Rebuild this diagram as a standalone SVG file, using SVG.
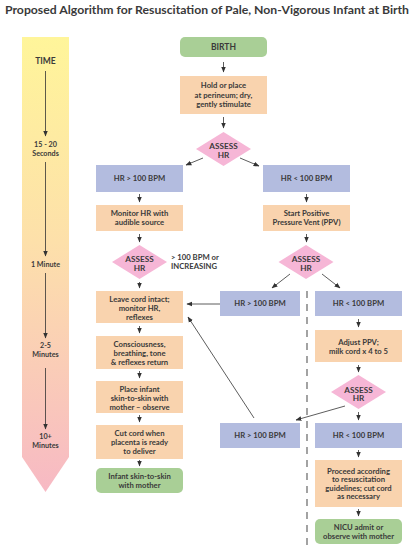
<svg xmlns="http://www.w3.org/2000/svg" width="414" height="550" viewBox="0 0 414 550">
<defs>
<linearGradient id="tg" x1="0" y1="0" x2="0" y2="1">
<stop offset="0" stop-color="#fff59a"/>
<stop offset="0.45" stop-color="#fde0aa"/>
<stop offset="1" stop-color="#f7b9c4"/>
</linearGradient>
<marker id="ah" viewBox="0 0 10 10" refX="9" refY="5" markerWidth="6" markerHeight="6" markerUnits="userSpaceOnUse" orient="auto">
<path d="M0,1 L10,5 L0,9 Z" fill="#333"/>
</marker>
<style>
text{font-family:Lato,"Liberation Sans",Arial,sans-serif;font-weight:700;fill:#3a3a3a;text-anchor:middle}
.t{font-size:7.7px}
.d{font-size:8.2px}
.tm{font-size:7.2px}
.peach{fill:#f9d3ae}
.blue{fill:#b3bcdf}
.green{fill:#a9cf96}
.pink{fill:#f6b6d6}
.c line,.c path{stroke:#333;stroke-width:0.8;fill:none;marker-end:url(#ah)}
.dash{stroke:#666;stroke-width:1.2;stroke-dasharray:7,6;fill:none}
</style>
</defs>
<rect width="414" height="550" fill="#ffffff"/>
<text x="207" y="14" style="font-size:12px;fill:#3a3a3a" textLength="404" lengthAdjust="spacingAndGlyphs">Proposed Algorithm for Resuscitation of Pale, Non-Vigorous Infant at Birth</text>

<g id="timeline">
<polygon points="22,37 69,37 69,457 45.5,492 22,457" fill="url(#tg)"/>
<text x="45.5" y="63.5" style="font-size:8.5px">TIME</text>
<text class="tm" x="45.5" y="147">15 - 20</text>
<text class="tm" x="45.5" y="155.5">Seconds</text>
<text class="tm" x="45.5" y="267">1 Minute</text>
<text class="tm" x="45.5" y="348">2-5</text>
<text class="tm" x="45.5" y="356.5">Minutes</text>
<text class="tm" x="45.5" y="439">10+</text>
<text class="tm" x="45.5" y="447.5">Minutes</text>
<g class="c">
<line x1="45.5" y1="71" x2="45.5" y2="136"/>
<line x1="45.5" y1="162" x2="45.5" y2="256"/>
<line x1="45.5" y1="273" x2="45.5" y2="338"/>
<line x1="45.5" y1="368" x2="45.5" y2="429"/>
</g>
</g>

<line class="dash" x1="307" y1="291" x2="307" y2="545"/>

<g id="birth"><rect class="green" x="180" y="37" width="87" height="20" rx="5"/><text x="223.5" y="50" style="font-size:8.5px">BIRTH</text></g>
<g id="hold"><rect class="peach" x="180" y="76" width="87" height="38"/><text class="t" x="223.5" y="88">Hold or place</text><text class="t" x="223.5" y="97.5">at perineum; dry,</text><text class="t" x="223.5" y="107">gently stimulate</text></g>
<g id="assess1"><polygon class="pink" points="223.5,132 251,149 223.5,166 196,149"/><text class="d" x="223.5" y="149">ASSESS</text><text class="d" x="223.5" y="157.5">HR</text></g>

<g id="hrgt1"><rect class="blue" x="96" y="165" width="87" height="27"/><text class="t" x="139.5" y="181">HR &gt; 100 BPM</text></g>
<g id="hrlt1"><rect class="blue" x="263" y="165" width="87" height="27"/><text class="t" x="306.5" y="181">HR &lt; 100 BPM</text></g>
<g id="monitor"><rect class="peach" x="96" y="205" width="87" height="26"/><text class="t" x="139.5" y="215.5">Monitor HR with</text><text class="t" x="139.5" y="224.5">audible source</text></g>
<g id="ppv"><rect class="peach" x="263" y="205" width="87" height="26"/><text class="t" x="306.5" y="215.5">Start Positive</text><text class="t" x="306.5" y="224.5">Pressure Vent (PPV)</text></g>
<g id="assess2"><polygon class="pink" points="139.5,245 167,262 139.5,279 112,262" /><text class="d" x="139.5" y="262">ASSESS</text><text class="d" x="139.5" y="271">HR</text></g>
<g id="incr"><text class="t" x="171" y="260" style="text-anchor:start">&gt; 100 BPM or</text><text class="t" x="171" y="269" style="text-anchor:start">INCREASING</text></g>
<g id="assess3"><polygon class="pink" points="306,245 333.5,262 306,279 278.5,262"/><text class="d" x="306" y="262">ASSESS</text><text class="d" x="306" y="271">HR</text></g>

<g id="leave"><rect class="peach" x="96" y="291" width="87" height="32"/><text class="t" x="139.5" y="301.5">Leave cord intact;</text><text class="t" x="139.5" y="310.5">monitor HR,</text><text class="t" x="139.5" y="319.5">reflexes</text></g>
<g id="hrgt2"><rect class="blue" x="220" y="291" width="80" height="25"/><text class="t" x="260" y="306">HR &gt; 100 BPM</text></g>
<g id="hrlt2"><rect class="blue" x="315" y="291" width="87" height="25"/><text class="t" x="358.5" y="306">HR &lt; 100 BPM</text></g>
<g id="consc"><rect class="peach" x="96" y="336" width="87" height="33"/><text class="t" x="139.5" y="346.5">Consciousness,</text><text class="t" x="139.5" y="355.5">breathing, tone</text><text class="t" x="139.5" y="364.5">&amp; reflexes return</text></g>
<g id="adjust"><rect class="peach" x="315" y="330" width="87" height="32"/><text class="t" x="358.5" y="344.5">Adjust PPV;</text><text class="t" x="358.5" y="353.5">milk cord x 4 to 5</text></g>
<g id="place"><rect class="peach" x="96" y="381" width="87" height="32"/><text class="t" x="139.5" y="391.5">Place infant</text><text class="t" x="139.5" y="400.5">skin-to-skin with</text><text class="t" x="139.5" y="409.5">mother – observe</text></g>
<g id="assess4"><polygon class="pink" points="358.5,375 386,392 358.5,409 331,392"/><text class="d" x="358.5" y="392.5">ASSESS</text><text class="d" x="358.5" y="401">HR</text></g>
<g id="cut"><rect class="peach" x="96" y="425" width="87" height="34"/><text class="t" x="139.5" y="435.5">Cut cord when</text><text class="t" x="139.5" y="444.5">placenta is ready</text><text class="t" x="139.5" y="453.5">to deliver</text></g>
<g id="hrgt3"><rect class="blue" x="220" y="423" width="80" height="25"/><text class="t" x="260" y="438">HR &gt; 100 BPM</text></g>
<g id="hrlt3"><rect class="blue" x="315" y="423" width="87" height="25"/><text class="t" x="358.5" y="438">HR &lt; 100 BPM</text></g>
<g id="infant"><rect class="green" x="96" y="468" width="87" height="25" rx="5"/><text class="t" x="139.5" y="479">Infant skin-to-skin</text><text class="t" x="139.5" y="488">with mother</text></g>
<g id="proceed"><rect class="peach" x="315" y="460" width="87" height="47"/><text class="t" x="358.5" y="473.5">Proceed according</text><text class="t" x="358.5" y="482">to resuscitation</text><text class="t" x="358.5" y="490.5">guidelines; cut cord</text><text class="t" x="358.5" y="499">as necessary</text></g>
<g id="nicu"><rect class="green" x="315" y="519" width="87" height="25" rx="5"/><text class="t" x="358.5" y="530">NICU admit or</text><text class="t" x="358.5" y="539">observe with mother</text></g>

<g id="connectors" class="c">
<line x1="223.5" y1="62" x2="223.5" y2="72"/>
<line x1="223.5" y1="117" x2="223.5" y2="128"/>
<line x1="203" y1="158" x2="186" y2="165"/>
<line x1="240" y1="158" x2="259" y2="166"/>
<line x1="139.5" y1="194" x2="139.5" y2="202"/>
<line x1="306.5" y1="194" x2="306.5" y2="202"/>
<line x1="139.5" y1="234" x2="139.5" y2="242"/>
<line x1="306.5" y1="234" x2="306.5" y2="242"/>
<line x1="139.5" y1="282" x2="139.5" y2="288"/>
<line x1="290" y1="274" x2="272" y2="288"/>
<line x1="322" y1="274" x2="340" y2="288"/>
<line x1="220" y1="304" x2="187" y2="304"/>
<line x1="139.5" y1="326" x2="139.5" y2="333"/>
<line x1="358.5" y1="319" x2="358.5" y2="327"/>
<line x1="139.5" y1="371" x2="139.5" y2="378"/>
<line x1="358.5" y1="365" x2="358.5" y2="372"/>
<line x1="139.5" y1="415" x2="139.5" y2="422"/>
<line x1="345" y1="406" x2="296" y2="420"/>
<line x1="358.5" y1="412" x2="358.5" y2="420"/>
<line x1="139.5" y1="460" x2="139.5" y2="466"/>
<line x1="358.5" y1="450" x2="358.5" y2="457"/>
<line x1="358.5" y1="509" x2="358.5" y2="516"/>
<line x1="254" y1="418" x2="188" y2="317"/>
</g>
</svg>
